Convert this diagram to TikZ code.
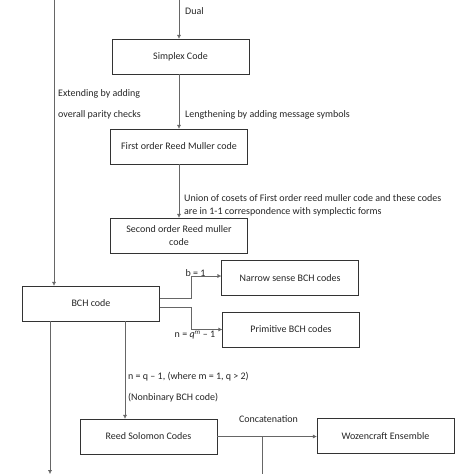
\documentclass[tikz,border=0pt]{standalone}
\usepackage{fontspec}
\setmainfont{Carlito}
\usetikzlibrary{arrows.meta}

\definecolor{boxline}{HTML}{333333}
\definecolor{wire}{HTML}{666666}
\definecolor{ink}{HTML}{262626}

\tikzset{
	codebox/.style = {draw = boxline, minimum width = 137pt, minimum height = 35pt, align = center, text = ink, inner sep = 1pt},
	wirearrow/.style = {wire, -{Latex[length = 4pt, width = 4pt]}},
	note/.style = {text = ink, inner sep = 0pt, align = left}
}

\begin{document}
\begin{tikzpicture}[x = 1pt, y = -1pt, font = \fontsize{10}{13}\selectfont]

	\useasboundingbox (0, 0) rectangle (474, 474);

	% Code families
	
	\node [codebox] (simplex) at (180.5, 56.5) {Simplex Code};
	\node [codebox] (rmone) at (179, 146.5) {First order Reed Muller code};
	\node [codebox] (rmtwo) at (179, 235.5) {Second order Reed muller\\code};
	\node [codebox] (bch) at (91, 303.5) {BCH code};
	\node [codebox] (narrow) at (290, 278) {Narrow sense BCH codes};
	\node [codebox] (primitive) at (291, 329.5) {Primitive BCH codes};
	\node [codebox] (rs) at (148.5, 436.5) {Reed Solomon Codes};
	\node [codebox] (woz) at (385.5, 436) {Wozencraft Ensemble};
	
	% Free ends
	
	\coordinate (dualin) at (179, 0);
	\coordinate (extin) at (54, 0);
	\coordinate (leftout) at (50, 474);
	\coordinate (concat) at (262, 437);
	\coordinate (concatout) at (262, 474);
	
	% Connectors
	
	\begin{scope}[thin]
		
		\draw [wirearrow] (dualin) -- (simplex.north -| dualin);
		\draw [wirearrow] (simplex.south -| rmone) -- (rmone.north);
		\draw [wirearrow] (rmone.south) -- (rmtwo.north);
		\draw [wirearrow] (extin) -- (bch.north -| extin);
		\draw [wirearrow] ([yshift = 5.5pt] bch.east) -- ++(31, 0) |- ([yshift = 2pt] narrow.west);
		\draw [wirearrow] ([yshift = -3.5pt] bch.east) -- ++(31, 0) |- (primitive.west);
		\draw [wirearrow] (bch.south -| rs.north) ++(-23.5, 0) -- ([xshift = -23.5pt] rs.north);
		\draw [wirearrow] (bch.south -| leftout) -- (leftout);
		\draw [wirearrow] (rs.east) -- (woz.west |- rs.east);
		\draw [wire] (concat) -- (concatout);
	
	\end{scope}
	
	% Relations between codes
	
	\node [note, anchor = west] at (185, 11) {Dual};
	\node [note, anchor = west] at (58, 94) {Extending by adding};
	\node [note, anchor = west] at (58, 115) {overall parity checks};
	\node [note, anchor = west] at (185, 115) {Lengthening by adding message symbols};
	\node [note, anchor = west] at (184, 205) {Union of cosets of First order reed muller code and these codes\\are in 1-1 correspondence with symplectic forms};
	\node [note] at (195.5, 273.5) {b = 1};
	\node [note] at (195, 335) {n = \textit{q}\textsuperscript{\textit{m}} -- 1};
	\node [note, anchor = west] at (128, 377) {n = q -- 1, (where m = 1, q > 2)};
	\node [note, anchor = west] at (128, 398) {(Nonbinary BCH code)};
	\node [note] at (268.5, 419) {Concatenation};

\end{tikzpicture}
\end{document}
